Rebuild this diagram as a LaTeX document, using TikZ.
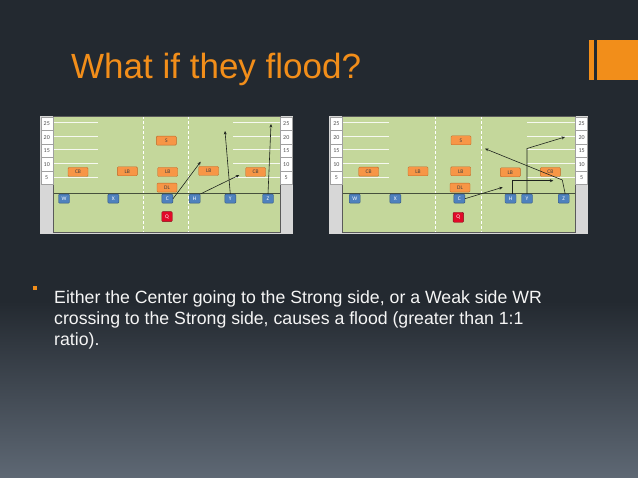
\documentclass[tikz,border=0pt]{standalone}
\usepackage{fontspec}
\setmainfont{Liberation Sans}
\newfontfamily\boxfont{Carlito}
\usetikzlibrary{arrows.meta}

\definecolor{bgtop}{RGB}{35,41,48}
\definecolor{bgbottom}{RGB}{94,104,116}
\definecolor{titleorange}{RGB}{242,142,26}
\definecolor{bodytext}{RGB}{245,245,245}
\definecolor{panelgrey}{RGB}{215,215,215}
\definecolor{fieldgreen}{RGB}{196,215,155}
\definecolor{fieldline}{RGB}{90,90,90}
\definecolor{losline}{RGB}{70,80,60}
\definecolor{numline}{RGB}{160,160,160}
\definecolor{numtext}{RGB}{80,80,80}
\definecolor{deffill}{RGB}{247,150,70}
\definecolor{defline}{RGB}{190,105,40}
\definecolor{offfill}{RGB}{79,129,189}
\definecolor{offline}{RGB}{50,85,130}
\definecolor{qbfill}{RGB}{225,10,40}
\definecolor{qbline}{RGB}{130,20,30}
\definecolor{routeline}{RGB}{30,35,30}

\pgfdeclareverticalshading{slidebg}{100bp}{color(0bp)=(bgbottom); color(25bp)=(bgbottom); color(43.5bp)=(bgtop); color(100bp)=(bgtop)}

\tikzstyle{defbox} = [rectangle, draw=defline, fill=deffill, rounded corners=1pt, minimum width=20pt, minimum height=9pt, inner sep=0pt, font=\boxfont\fontsize{5.5}{5.5}\selectfont, text=black!75]
\tikzstyle{offbox} = [rectangle, draw=offline, fill=offfill, rounded corners=1pt, minimum width=11pt, minimum height=9pt, inner sep=0pt, font=\boxfont\fontsize{5.5}{5.5}\selectfont, text=white]
\tikzstyle{qbbox} = [offbox, draw=qbline, fill=qbfill, minimum width=10.5pt, minimum height=10pt]
\tikzstyle{numbox} = [rectangle, draw=numline, fill=white, minimum width=12pt, minimum height=13.5pt, inner sep=0pt, line width=0.5pt, font=\boxfont\fontsize{6}{6}\selectfont, text=numtext]
\tikzset{route/.style = {
    draw=routeline, line width=0.6pt,
    -{Stealth[length=3.5pt,width=3pt]},
  }
}
\tikzset{yardline/.style = {white, line width=0.8pt, opacity=0.85},
  hashline/.style = {white, line width=0.8pt, dash pattern=on 3pt off 2pt},
  scrimmage/.style = {draw=losline, line width=0.8pt},
  fieldframe/.style = {draw=fieldline, line width=0.6pt}
}

% field, yard lines and yard numbers; #1 left edge, #2 width, #3 name prefix
\newcommand{\fieldbase}[3]{%
  \begin{scope}[xshift=#1pt, xscale=#2/100]
    \fill[panelgrey] (-5.8,116) rectangle (105.6,234);
    \fill[fieldgreen] (0,116.5) rectangle (100,232);
    \foreach \yl in {122.3,136,149.7,163.3,177.5} {
      \draw[yardline] (0,\yl) -- (20,\yl);
      \draw[yardline] (79.2,\yl) -- (100,\yl);
    }
    \draw[hashline] (39.8,116.5) -- (39.8,232);
    \draw[hashline] (59.8,116.5) -- (59.8,232);
    \draw[scrimmage] (0,193) -- (100,193);
    \draw[fieldframe] (0,116.5) rectangle (100,232);
    \foreach \n/\yl in {25/123.7,20/137.2,15/150.7,10/164.2,5/177.7} {
      \node[numbox, anchor=east] (#3l\n) at (0,\yl) {\n};
      \node[numbox, anchor=west] (#3r\n) at (100,\yl) {\n};
    }
  \end{scope}}

\begin{document}
\begin{tikzpicture}[x=1pt, y=-1pt]
    \useasboundingbox (0,0) rectangle (638,478);
    \shade[shading=slidebg] (0,0) rectangle (638,478);

    % logo bars
    \fill[titleorange] (589,40) rectangle (594,80);
    \fill[titleorange] (597,40) rectangle (638,80);

    % title and text
    \node[anchor=base west, inner sep=0pt, text=titleorange, font=\fontsize{35}{42}\selectfont] (title) at (71,79) {What if they flood?};
    \node[fill=titleorange, minimum size=4pt, inner sep=0pt] (bullet) at (35.3,288) {};
    \node[anchor=north west, align=left, inner sep=0pt, text=bodytext, font=\fontsize{17.7}{21}\selectfont] (body) at (54,290.5) {Either the Center going to the Strong side, or a Weak side WR\\crossing to the Strong side, causes a flood (greater than 1:1\\ratio).};

    % left play: center goes to the strong side
    \fieldbase{53}{227}{a}
    \node[defbox] (sA) at (166.3,140.7) {S};
    \node[defbox] (cbwA) at (78,172) {CB};
    \node[defbox] (lbwA) at (127.3,171.3) {LB};
    \node[defbox] (lbmA) at (167.7,172) {LB};
    \node[defbox] (lbsA) at (208.7,171) {LB};
    \node[defbox] (cbsA) at (255.7,172) {CB};
    \node[defbox] (dlA) at (167,187.7) {DL};
    \node[offbox] (wA) at (64,198.7) {W};
    \node[offbox] (xA) at (113.3,198.7) {X};
    \node[offbox] (cA) at (167.3,198.7) {C};
    \node[offbox] (hA) at (194.7,198.7) {H};
    \node[offbox] (yA) at (230.3,198.7) {Y};
    \node[offbox] (zA) at (268,198.7) {Z};
    \node[qbbox] (qA) at (167,216.7) {Q};

    \coordinate (cEndA) at (200.7,161.7);
    \coordinate (hEndA) at (239.3,175);
    \coordinate (yEndA) at (225,131);
    \coordinate (zEndA) at (271,124);
    \draw[route] (cA.east) -- (cEndA);
    \draw[route] (hA.north east) -- (hEndA);
    \draw[route] (yA.north) -- (yEndA);
    \draw[route] (zA.north) -- (zEndA);

    % right play: weak side receiver crosses
    \fieldbase{342.7}{232.6}{b}
    \node[defbox] (sB) at (461,140.3) {S};
    \node[defbox] (cbwB) at (368.7,171.7) {CB};
    \node[defbox] (lbwB) at (418,171.3) {LB};
    \node[defbox] (lbmB) at (460.7,171.3) {LB};
    \node[defbox] (lbsB) at (510.3,172.3) {LB};
    \node[defbox] (cbsB) at (550.3,172) {CB};
    \node[defbox] (dlB) at (460,187.7) {DL};
    \node[offbox] (wB) at (354.7,198.7) {W};
    \node[offbox] (xB) at (395.3,198.7) {X};
    \node[offbox] (cB) at (459.3,198.7) {C};
    \node[offbox] (hB) at (510.5,198.7) {H};
    \node[offbox] (yB) at (527,198.7) {Y};
    \node[offbox] (zB) at (563.7,198.7) {Z};
    \node[qbbox] (qB) at (458.3,217.3) {Q};

    \coordinate (cEndB) at (502.7,187.3);
    \coordinate (hEndB) at (553.3,180.7);
    \coordinate (yBendB) at (527,148.5);
    \coordinate (yEndB) at (565,137);
    \coordinate (zBendB) at (562.3,180);
    \coordinate (zEndB) at (485,148.7);
    \draw[route] (cB.east) -- (cEndB);
    \draw[route] ([xshift=1.5pt]hB.north) |- (hEndB);
    \draw[route] (yB.north) -- (yBendB) -- (yEndB);
    \draw[route] ([xshift=1.5pt]zB.north) -- (zBendB) -- (zEndB);
\end{tikzpicture}
\end{document}
